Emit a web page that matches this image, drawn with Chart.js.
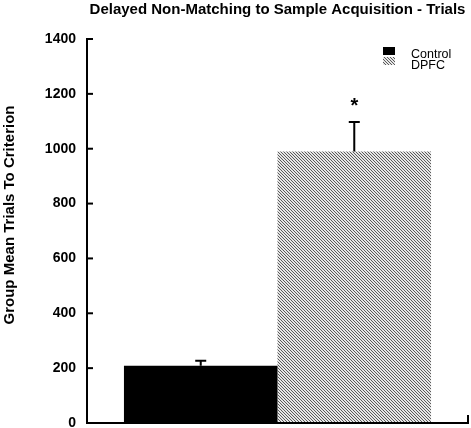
<!DOCTYPE html>
<html>
<head>
<meta charset="utf-8">
<script src="https://cdn.jsdelivr.net/npm/chart.js@4/dist/chart.umd.min.js"></script>
<style>
html,body{margin:0;padding:0;background:#fff;}
#wrap{width:471px;height:428px;position:relative;}
</style>
</head>
<body>
<div id="wrap"><canvas id="c" width="471" height="428"></canvas></div>
<script>
// ---- data ----
const chartTitle = 'Delayed Non-Matching to Sample Acquisition - Trials';
const yAxisTitle = 'Group Mean Trials To Criterion';
const categories = [''];
const seriesNames = ['Control', 'DPFC'];
const seriesMeans = [209, 990];
const seriesErrors = [18, 107];
const significance = ['', '*'];
const yTicks = [0, 200, 400, 600, 800, 1000, 1200, 1400];

const FONT = '"Liberation Sans", Arial, sans-serif';

function makeHatch() {
  const p = document.createElement('canvas');
  p.width = 3; p.height = 3;
  const g = p.getContext('2d');
  g.fillStyle = '#e6e6e6';
  g.fillRect(0, 0, 3, 3);
  g.fillStyle = '#5a5a5a';
  for (let i = 0; i < 3; i++) g.fillRect(i, i, 1, 1);
  return document.getElementById('c').getContext('2d').createPattern(p, 'repeat');
}
const hatch = makeHatch();
const fills = ['#000000', hatch];

const decorPlugin = {
  id: 'decor',
  afterDatasetsDraw(chart) {
    const ctx = chart.ctx;
    const ys = chart.scales.y;
    const area = chart.chartArea;
    ctx.save();
    // error bars
    ctx.strokeStyle = '#000';
    ctx.lineWidth = 2;
    chart.data.datasets.forEach((ds, i) => {
      const el = chart.getDatasetMeta(i).data[0];
      const top = ys.getPixelForValue(seriesMeans[i] + seriesErrors[i]);
      ctx.beginPath();
      ctx.moveTo(el.x, el.y);
      ctx.lineTo(el.x, top);
      ctx.moveTo(el.x - 5.5, top);
      ctx.lineTo(el.x + 5.5, top);
      ctx.stroke();
      if (significance[i]) {
        ctx.fillStyle = '#000';
        ctx.font = 'bold 20px ' + FONT;
        ctx.textAlign = 'center';
        ctx.textBaseline = 'top';
        ctx.fillText(significance[i], el.x, top - 26);
      }
    });
    // inward y ticks
    yTicks.forEach(v => {
      const y = ys.getPixelForValue(v);
      ctx.beginPath();
      ctx.moveTo(area.left, y);
      ctx.lineTo(area.left + 6, y);
      ctx.stroke();
    });
    // x axis line
    ctx.beginPath();
    ctx.moveTo(area.left - 1, area.bottom);
    ctx.lineTo(area.right + 1, area.bottom);
    ctx.stroke();
    ctx.beginPath();
    ctx.moveTo(area.right, area.bottom);
    ctx.lineTo(area.right, area.bottom - 8);
    ctx.stroke();
    // title
    ctx.fillStyle = '#000';
    ctx.font = 'bold 15px ' + FONT;
    ctx.textAlign = 'center';
    ctx.textBaseline = 'middle';
    ctx.fillText(chartTitle, (area.left + area.right) / 2, 10);
    // y axis title
    ctx.save();
    ctx.translate(10, 215);
    ctx.rotate(-Math.PI / 2);
    ctx.font = 'bold 15px ' + FONT;
    ctx.fillText(yAxisTitle, 0, 0);
    ctx.restore();
    // legend
    ctx.font = '12.5px ' + FONT;
    ctx.textAlign = 'left';
    ctx.textBaseline = 'middle';
    seriesNames.forEach((n, i) => {
      const y0 = 47 + i * 10;
      ctx.fillStyle = fills[i];
      ctx.fillRect(383, y0, 12, 8);
      ctx.fillStyle = '#000';
      ctx.fillText(n, 411, 54.5 + i * 11);
    });
    ctx.restore();
  }
};

new Chart(document.getElementById('c'), {
  type: 'bar',
  data: {
    labels: categories,
    datasets: seriesNames.map((n, i) => ({
      label: n,
      data: [seriesMeans[i]],
      backgroundColor: fills[i],
      borderWidth: 0,
      barPercentage: 1,
      categoryPercentage: 0.806
    }))
  },
  options: {
    responsive: false,
    animation: false,
    devicePixelRatio: 1,
    layout: { padding: { top: 39, right: 3, bottom: 5, left: 0 } },
    plugins: { legend: { display: false }, title: { display: false }, tooltip: { enabled: false } },
    scales: {
      x: { display: false, offset: true },
      y: {
        min: 0, max: 1400,
        afterBuildTicks(scale) { scale.ticks = yTicks.map(v => ({ value: v })); },
        afterFit(scale) { scale.width = 87; scale.paddingTop = 0; scale.paddingBottom = 0; },
        grid: { display: false, drawTicks: false },
        border: { display: true, color: '#000', width: 2 },
        ticks: {
          color: '#000',
          padding: 11,
          callback: v => String(v),
          font: { family: FONT, size: 14, weight: 'bold' }
        }
      }
    }
  },
  plugins: [decorPlugin]
});
</script>
</body>
</html>
